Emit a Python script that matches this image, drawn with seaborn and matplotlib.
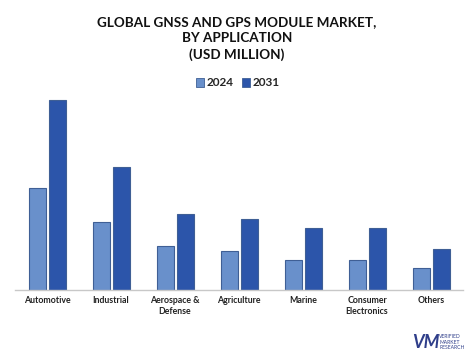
import matplotlib
matplotlib.use("Agg")
import matplotlib.pyplot as plt
import seaborn as sns
import pandas as pd
from matplotlib.patches import Patch

categories = ["Automotive", "Industrial", "Aerospace &\nDefense", "Agriculture",
              "Marine", "Consumer\nElectronics", "Others"]
years = ["2024", "2031"]
values_2024 = [101.8, 67.8, 43.8, 39.5, 30.2, 30.2, 22.2]
values_2031 = [189.8, 123.5, 75.8, 71.5, 61.8, 61.8, 41.5]

df = pd.DataFrame({
    "Application": categories * 2,
    "Year": [years[0]] * len(categories) + [years[1]] * len(categories),
    "Value": values_2024 + values_2031,
})

sns.set_theme(style="white")
plt.rcParams['font.family'] = ['Lato', 'DejaVu Sans']

fig = plt.figure(figsize=(4.74, 3.57), dpi=100)
ax = fig.add_axes([15/474, 1 - 290/357, (463-15)/474, 195/357])

palette = {"2024": "#6990CB", "2031": "#2C55AA"}
sns.barplot(data=df, x="Application", y="Value", hue="Year", palette=palette,
            width=0.625, gap=0.15, ax=ax, legend=False, saturation=1,
            edgecolor="#3f5f95", linewidth=0.8)

ax.set_ylim(0, 195)
ax.set_xlim(-0.5, len(categories) - 0.5)
ax.set_xlabel("")
ax.set_ylabel("")
ax.set_yticks([])
ax.tick_params(axis="x", length=0, pad=4.5)
for lab in ax.get_xticklabels():
    lab.set_fontsize(6.3)
    lab.set_fontweight("bold")
    lab.set_color("#222222")
for s in ["top", "right", "left"]:
    ax.spines[s].set_visible(False)
ax.spines["bottom"].set_color("#c8c8c8")
ax.spines["bottom"].set_linewidth(1)

fig.text(0.5, 1 - 38.5/357, "GLOBAL GNSS AND GPS MODULE MARKET,\nBY APPLICATION\n(USD MILLION)",
         ha="center", va="center", fontsize=9.7, fontweight="bold", color="#111111",
         linespacing=1.42)

handles = [Patch(facecolor=palette[y], edgecolor="#3f5f95", linewidth=0.6) for y in years]
fig.legend(handles, years, loc="center", bbox_to_anchor=(238/474, 1 - 83/357), ncol=2,
           frameon=False, prop={"weight": "bold", "size": 8.5}, handlelength=0.65,
           handleheight=0.75, handletextpad=0.25, columnspacing=0.7)

# logo
fig.text(426/474, 1 - 342/357, "VM", ha="center", va="center", fontsize=13,
         color="#2f3e8a", fontweight="bold", fontstyle="italic")
fig.text(439/474, 1 - 342/357, "VERIFIED\nMARKET\nRESEARCH", ha="left", va="center",
         fontsize=3.6, color="#2f3e8a", linespacing=1.2)

fig.savefig("out.png", dpi=100)
